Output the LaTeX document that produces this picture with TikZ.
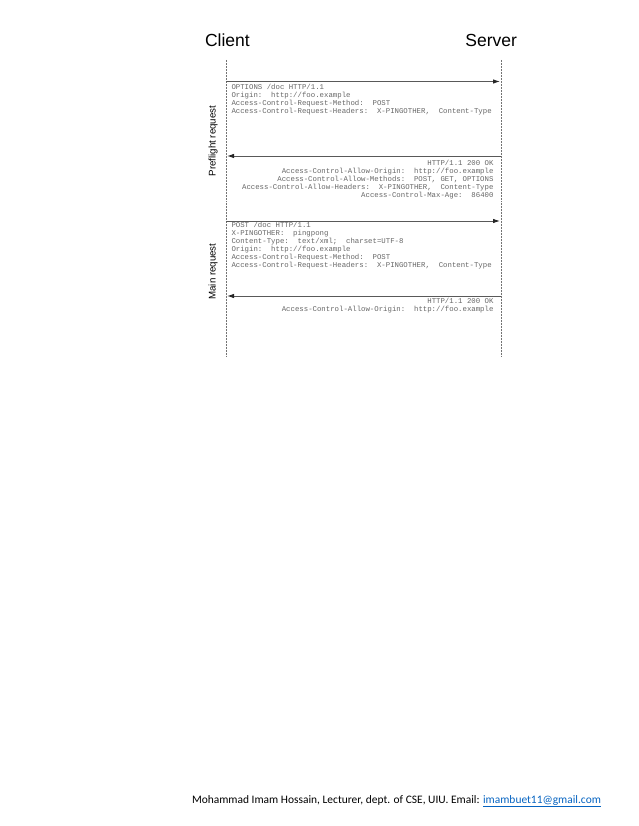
\documentclass[tikz,border=0pt]{standalone}
\usepackage{fontspec}
\setmainfont{Liberation Sans}
\newfontfamily\monofont{Liberation Mono}
\newfontfamily\footfont{Carlito}
\usetikzlibrary{arrows.meta}
\definecolor{enlace}{RGB}{5,99,193}
\begin{document}
\begin{tikzpicture}[x=1pt, y=-1pt,
    every node/.style={inner sep=0pt, outer sep=0pt},
    titulo/.style={font=\fontsize{17.5}{20}\selectfont, anchor=base},
    vida/.style={draw=black!55, densely dotted, line width=0.5pt},
    mensaje/.style={draw=black!65, line width=0.9pt, -{Latex[length=7pt, width=4.5pt, color=black!85]}},
    cabecera/.style={font=\monofont\fontsize{7.35}{8}\selectfont, text=black!60},
    fase/.style={rotate=90, font=\fontsize{9.7}{11}\selectfont}
]
\useasboundingbox (0,0) rectangle (638,826);
% Titulos
\node[titulo, anchor=base west] (cliente) at (205,47) {Client};
\node[titulo, anchor=base east] (servidor) at (517,47) {Server};
% Lineas de vida
\coordinate (c0) at (226,60);
\coordinate (c1) at (226,356);
\coordinate (s0) at (501,60);
\coordinate (s1) at (501,356);
\draw[vida] (c0) -- (c1);
\draw[vida] (s0) -- (s1);
% Fases
\node[fase] (preflight) at (213,141) {Preflight request};
\node[fase] (principal) at (213,271.5) {Main request};
% Mensajes
\coordinate (m1c) at (226,81.5);
\coordinate (m1s) at (500,81.5);
\coordinate (m2s) at (501,156);
\coordinate (m2c) at (227,156);
\coordinate (m3c) at (226,221);
\coordinate (m3s) at (500,221);
\coordinate (m4s) at (501,296);
\coordinate (m4c) at (227,296);
\draw[mensaje] (m1c) -- (m1s);
\draw[mensaje] (m2s) -- (m2c);
\draw[mensaje] (m3c) -- (m3s);
\draw[mensaje] (m4s) -- (m4c);
% Cabeceras
\node[cabecera, anchor=north west, align=left] (peticion1) at (231.5,84.5) {%
OPTIONS /doc HTTP/1.1\\
Origin:~~http://foo.example\\
Access-Control-Request-Method:~~POST\\
Access-Control-Request-Headers:~~X-PINGOTHER,~~Content-Type};
\node[cabecera, anchor=north east, align=right] (respuesta1) at (493.5,160.5) {%
HTTP/1.1 200 OK\\
Access-Control-Allow-Origin:~~http://foo.example\\
Access-Control-Allow-Methods:~~POST, GET, OPTIONS\\
Access-Control-Allow-Headers:~~X-PINGOTHER,~~Content-Type\\
Access-Control-Max-Age:~~86400};
\node[cabecera, anchor=north west, align=left] (peticion2) at (231.5,222.5) {%
POST /doc HTTP/1.1\\
X-PINGOTHER:~~pingpong\\
Content-Type:~~text/xml;~~charset=UTF-8\\
Origin:~~http://foo.example\\
Access-Control-Request-Method:~~POST\\
Access-Control-Request-Headers:~~X-PINGOTHER,~~Content-Type};
\node[cabecera, anchor=north east, align=right] (respuesta2) at (493.5,298.5) {%
HTTP/1.1 200 OK\\
Access-Control-Allow-Origin:~~http://foo.example};
% Pie
\node[anchor=base west, font=\footfont\fontsize{11.45}{13}\selectfont] (pie) at (192,803)
  {Mohammad Imam Hossain, Lecturer, dept. of CSE, UIU. Email: \textcolor{enlace}{\underline{imambuet11@gmail.com}}};
\end{tikzpicture}
\end{document}
